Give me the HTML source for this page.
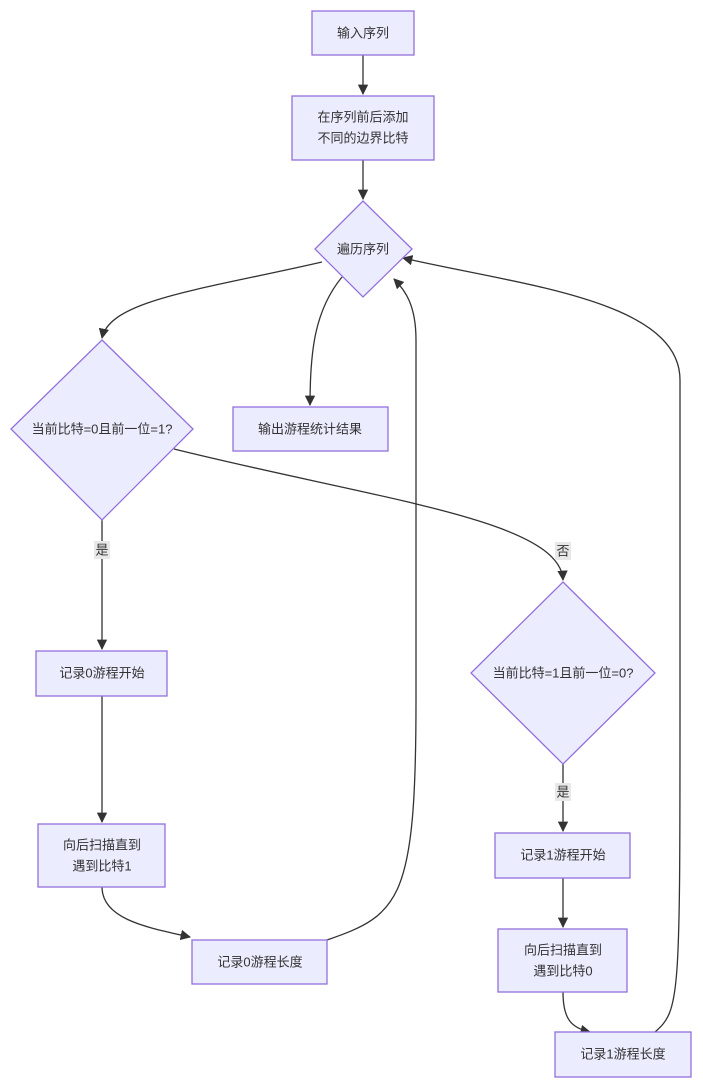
<!DOCTYPE html>
<html><head><meta charset="utf-8"><style>
html,body{margin:0;padding:0;background:#fff;}
svg text{font-family:"Liberation Sans","Noto Sans CJK SC",sans-serif;font-size:13px;fill:#333;text-anchor:middle;dominant-baseline:central;}
.n{fill:#ECECFF;stroke:#9370DB;stroke-width:1.3;}
.e{fill:none;stroke:#333;stroke-width:1.3;marker-end:url(#a);}
.lb{fill:#e8e8e8;}
</style></head><body>
<svg width="703" height="1085" viewBox="0 0 703 1085" xmlns="http://www.w3.org/2000/svg">
<defs><marker id="a" viewBox="0 0 10 10" refX="9" refY="5" markerWidth="8" markerHeight="8" orient="auto"><path d="M0,0L10,5L0,10z" fill="#333"/></marker></defs>
<path class="e" d="M363,55 L363,94"/>
<path class="e" d="M363,160 L363,199"/>
<path class="e" d="M322,262 C200,290 110,300 102,338"/>
<path class="e" d="M342,277 C315,310 310,350 310,405"/>
<path class="e" d="M174,449 C380,500 560,520 563,580"/>
<path class="e" d="M102,520 L102,649"/>
<path class="e" d="M102,696 L102,822"/>
<path class="e" d="M102,887 C102,920 150,928 190,937"/>
<path class="e" d="M327,940 C400,915 416,900 416,700 L416,340 C416,305 405,290 394,279"/>
<path class="e" d="M563,764 L563,831"/>
<path class="e" d="M563,878 L563,927"/>
<path class="e" d="M563,992 C563,1020 572,1028 590,1032"/>
<path class="e" d="M655,1032 C680,1010 680,1000 680,700 L680,380 C680,300 520,285 403,258"/>
<rect class="n" x="312" y="11" width="102" height="44"/>
<text x="363" y="33">输入序列</text>
<rect class="n" x="292" y="96" width="142" height="64"/>
<text x="363" y="117">在序列前后添加</text>
<text x="363" y="138">不同的边界比特</text>
<polygon class="n" points="363,201 412,249 363,297 315,249"/>
<text x="363" y="249">遍历序列</text>
<polygon class="n" points="102,340 193,429 102,520 11,429"/>
<text x="102" y="429">当前比特=0且前一位=1?</text>
<rect class="n" x="233" y="407" width="155" height="44"/>
<text x="310" y="429">输出游程统计结果</text>
<rect class="lb" x="94" y="541" width="16" height="18"/><text x="102" y="550">是</text>
<rect class="lb" x="555" y="542" width="16" height="18"/><text x="563" y="551">否</text>
<polygon class="n" points="563,582 655,673 563,764 471,673"/>
<text x="563" y="673">当前比特=1且前一位=0?</text>
<rect class="lb" x="555" y="783" width="16" height="18"/><text x="563" y="792">是</text>
<rect class="n" x="36" y="651" width="131" height="45"/>
<text x="102" y="673">记录0游程开始</text>
<rect class="n" x="38" y="824" width="127" height="63"/>
<text x="102" y="845">向后扫描直到</text>
<text x="102" y="866">遇到比特1</text>
<rect class="n" x="192" y="940" width="135" height="44"/>
<text x="260" y="962">记录0游程长度</text>
<rect class="n" x="495" y="833" width="135" height="45"/>
<text x="563" y="855">记录1游程开始</text>
<rect class="n" x="498" y="929" width="129" height="63"/>
<text x="563" y="950">向后扫描直到</text>
<text x="563" y="971">遇到比特0</text>
<rect class="n" x="555" y="1032" width="136" height="45"/>
<text x="623" y="1054">记录1游程长度</text>
</svg>
</body></html>
